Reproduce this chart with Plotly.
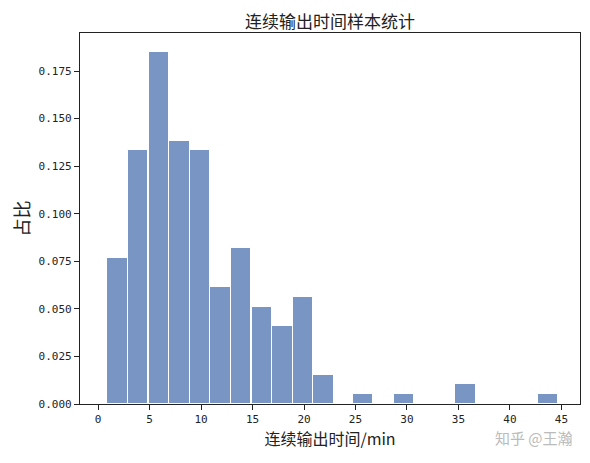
import plotly.graph_objects as go

bin_centers = [1.9, 3.9, 5.9, 7.9, 9.9, 11.9, 13.9, 15.9, 17.9, 19.9, 21.9, 25.7, 29.7, 35.7, 43.7]
proportions = [0.0768, 0.1335, 0.185, 0.138, 0.1335, 0.0615, 0.082, 0.051, 0.041, 0.056, 0.0154, 0.005, 0.005, 0.0103, 0.005]
x_ticks = [0, 5, 10, 15, 20, 25, 30, 35, 40, 45]
y_ticks = [0, 0.025, 0.05, 0.075, 0.1, 0.125, 0.15, 0.175]

fig = go.Figure(go.Bar(x=bin_centers, y=proportions, width=1.98,
                       marker=dict(color="rgba(76,114,176,0.75)", line=dict(color="white", width=1))))
font = "Noto Sans CJK SC, DejaVu Sans"
fig.update_layout(
    width=574, height=447, margin=dict(l=72, r=2, t=25, b=51),
    plot_bgcolor="white", paper_bgcolor="white", showlegend=False,
    font=dict(family=font, color="#222", size=12),
    title=dict(text="连续输出时间样本统计", x=0.5, xref="paper", y=0.968, yanchor="middle", font=dict(size=17)),
    bargap=0,
)
ax = dict(showline=True, linecolor="#222", linewidth=1.2, mirror=True, showgrid=False, zeroline=False,
          ticks="outside", ticklen=5, tickcolor="#222", tickfont=dict(family="DejaVu Sans Mono", size=11))
fig.update_xaxes(**ax, range=[-1.75, 46.8], tickvals=x_ticks,
                 title=dict(text="连续输出时间/min", font=dict(size=16), standoff=2))
fig.update_yaxes(**ax, range=[0, 0.195], tickvals=y_ticks, tickformat=".3f",
                 title=dict(text="占比", font=dict(size=18), standoff=8))
fig.add_annotation(text="知乎 @王瀚", xref="paper", yref="paper", x=0.99, y=-0.09, xanchor="right",
                   yanchor="middle", showarrow=False, font=dict(size=15, color="#bbb"))
fig.write_html("out.html")
